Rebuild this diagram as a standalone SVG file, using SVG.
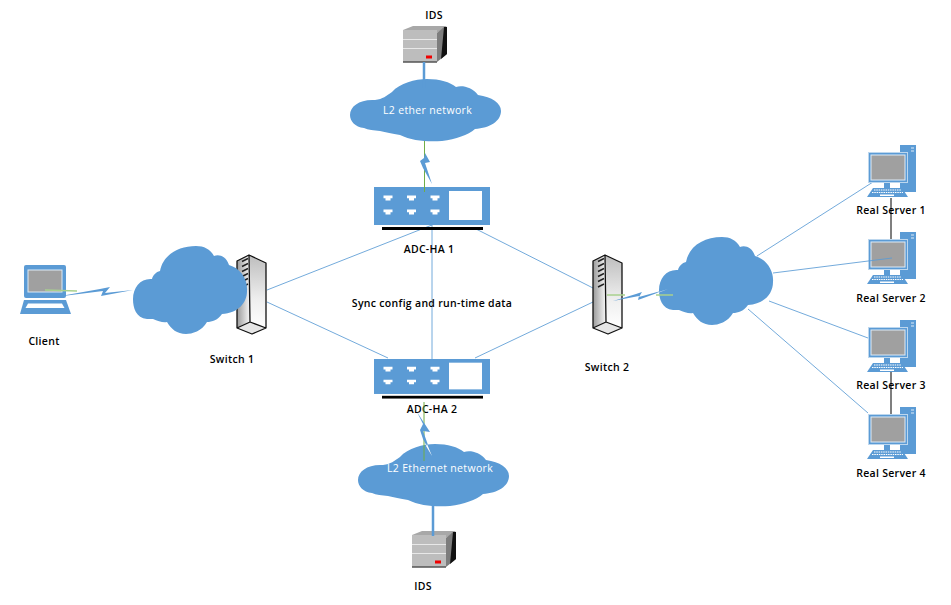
<svg xmlns="http://www.w3.org/2000/svg" xmlns:xlink="http://www.w3.org/1999/xlink" width="951" height="605" viewBox="0 0 951 605">
<style>
text{font-family:"Open Sans","DejaVu Sans",sans-serif;font-size:10.5px;font-weight:600;fill:#000;text-anchor:middle;letter-spacing:.3px}
text.w{fill:#fff;font-weight:400;font-size:10.5px;letter-spacing:.35px}
.b{fill:#5b9bd5}
.l{stroke:#5b9bd5;stroke-width:1;fill:none;opacity:.85}
.t{stroke:#5b9bd5;stroke-width:2.5;fill:none}
.g{stroke:#a9d18e;stroke-width:1.5;fill:none}
.gd{stroke:#70ad47;stroke-width:1;fill:none}
.k{stroke:#7f7f7f;stroke-width:2;fill:none}
</style>
<defs>
<linearGradient id="gl" x1="0" y1="0" x2="1" y2="0"><stop offset="0" stop-color="#9a9a9a"/><stop offset="1" stop-color="#f8f8f8"/></linearGradient>
<linearGradient id="gr" x1="0" y1="0" x2="0" y2="1"><stop offset="0" stop-color="#bdbdbd"/><stop offset=".6" stop-color="#eeeeee"/><stop offset="1" stop-color="#ffffff"/></linearGradient>
<path id="cloud" class="b" d="M14 73C3 72 0 62 0 53C0 41 8 32 19 33C20 29 23 26 27 25C30 9 45 0 63 0C71 0 77 3 81 10C86 8 93 10 96 19C107 22 115 33 114 45C114 57 105 67 89 68C85 74 79 76 74 76C69 85 59 88 53 88C44 88 38 83 34 76C30 77 25 75 20 73Z"/>
<path id="cloud-wide" class="b" d="M14 49C5 48 0 42 0 36C0 27 10 20 25 21C33 20 36 17 42 13C50 4 65 0 77 0C90 0 100 3 106 8C112 6 122 8 128 16C142 18 151 24 151 32C151 42 140 49 125 50C118 56 106 60 92 62C78 63 62 62 50 56C42 55 36 53 30 52C24 51 18 51 14 49Z"/>
<g id="server">
<path d="M403 30L413 26H447L437 33H403Z" fill="#a8a8a8"/>
<path d="M437 33L444 27H447V54L437 62Z" fill="#7d7d7d"/>
<path d="M444 27H447V54L441 59Z" fill="#111"/>
<rect x="403" y="30" width="34" height="32" fill="#bdbdbd"/>
<path d="M403 39.500H437M403 48.500H437" stroke="#e8e8e8" stroke-width="1.200"/>
<path d="M403 62H437" stroke="#555" stroke-width="1.500"/>
<rect x="426" y="55.500" width="6" height="3" fill="#f00000"/>
</g>
<g id="adc">
<rect class="b" x="374" y="187" width="116" height="38"/>
<rect x="449" y="191" width="33" height="29" fill="#fff"/>
<g fill="#fff">
<path id="p" d="M383.500 195.500h9v2.800h-2v2.200h-5v-2.200h-2z"/>
<use xlink:href="#p" href="#p" x="23.500"/><use xlink:href="#p" href="#p" x="47"/>
<use xlink:href="#p" href="#p" y="14"/><use xlink:href="#p" href="#p" x="23.500" y="14"/><use xlink:href="#p" href="#p" x="47" y="14"/>
</g>
<rect x="382" y="227" width="101" height="3" fill="#000"/>
</g>
<g id="switch">
<path d="M593 261L605 255L606 322L593 328Z" fill="url(#gl)"/>
<path d="M605 255L622 263V328L606 322Z" fill="url(#gr)"/>
<path d="M593 328L606 322L622 328L608 334Z" fill="#e6e6e6"/>
<path d="M593 261L605 255L622 263V328L608 334L593 328ZM605 255L606 322M593 328L606 322L622 328" fill="none" stroke="#111" stroke-width="1.300" stroke-linejoin="round"/>
<path d="M598 261.500L604 258.500M598 266.500L604 263.500M598 271.500L604 268.500M598 276.500L604 273.500M598 281.500L604 278.500M598 287L604 284" stroke="#222" stroke-width="1.500"/>
</g>
<g id="pc">
<rect class="b" x="900" y="145" width="16" height="47"/>
<path d="M911 148h3M911 151h3" stroke="#deebf7" stroke-width="1"/>
<rect class="b" x="868.500" y="152.500" width="39" height="30" stroke="#bdd7ee" stroke-width="1"/>
<rect x="871" y="155" width="34" height="25" fill="#a0a0a0" stroke="#deebf7" stroke-width="1"/>
<rect class="b" x="884" y="183" width="6" height="5"/>
<path class="b" d="M873 188H902L908 197H867Z"/>
<path d="M874 190H901M872 192.500H903" stroke="#fff" stroke-width="1.200" stroke-dasharray="1.500 .8"/>
<rect x="880" y="194.500" width="14" height="1.500" fill="#fff"/>
</g>
</defs>

<g id="connectors">
<line class="l" x1="267" y1="290" x2="432" y2="225"/>
<line class="l" x1="267" y1="302" x2="388" y2="358"/>
<line class="l" x1="432" y1="225" x2="432" y2="360"/>
<line class="l" x1="476" y1="229" x2="593" y2="288"/>
<line class="l" x1="475" y1="358" x2="593" y2="302"/>
<line class="l" x1="757" y1="256" x2="873" y2="182"/>
<line class="l" x1="868" y1="338" x2="769" y2="301"/>
<line class="l" x1="868" y1="413" x2="748" y2="309"/>
<line class="k" x1="891" y1="198" x2="891" y2="240"/>
<line class="k" x1="891" y1="372" x2="891" y2="415"/>
</g>

<g id="ids-top"><use xlink:href="#server" href="#server"/><text x="434" y="19">IDS</text></g>
<g id="ids-bottom"><use xlink:href="#server" href="#server" transform="translate(9 505)"/><text x="423" y="590">IDS</text></g>
<g id="adc-ha-1"><use xlink:href="#adc" href="#adc"/><text x="429" y="253">ADC-HA 1</text></g>
<g id="adc-ha-2"><use xlink:href="#adc" href="#adc" transform="translate(0 359) scale(1 .92) translate(0 -187)"/><text x="432" y="413">ADC-HA 2</text></g>
<g id="switch-1"><use xlink:href="#switch" href="#switch" transform="translate(-356 0)"/><text x="232" y="363">Switch 1</text></g>
<g id="switch-2"><use xlink:href="#switch" href="#switch"/><text x="607" y="371">Switch 2</text></g>

<g id="client">
<rect class="b" x="24" y="265" width="42" height="33" rx="2"/>
<rect x="28" y="270" width="34" height="22" fill="#a0a0a0" stroke="#deebf7" stroke-width="1"/>
<path class="b" d="M24 300H66L71 314H20Z"/>
<path d="M28 303.500H62L64.500 308H25.500Z" fill="#fff"/>
<text x="44" y="345">Client</text>
</g>
<g id="cloud-client"><use xlink:href="#cloud" href="#cloud" transform="translate(133 246)"/></g>
<g id="cloud-servers"><use xlink:href="#cloud" href="#cloud" transform="translate(659 237)"/></g>
<g id="cloud-top"><use xlink:href="#cloud-wide" href="#cloud-wide" transform="translate(350 79)"/><text class="w" x="427.500" y="114">L2 ether network</text></g>
<g id="cloud-bottom"><use xlink:href="#cloud-wide" href="#cloud-wide" transform="translate(358 444)"/><text class="w" x="440" y="472">L2 Ethernet network</text></g>

<g id="pc-1"><use xlink:href="#pc" href="#pc"/><text x="891" y="214">Real Server 1</text></g>
<g id="pc-2"><use xlink:href="#pc" href="#pc" transform="translate(0 87)"/><text x="891" y="302">Real Server 2</text></g>
<g id="pc-3"><use xlink:href="#pc" href="#pc" transform="translate(0 175)"/><text x="891" y="389">Real Server 3</text></g>
<g id="pc-4"><use xlink:href="#pc" href="#pc" transform="translate(0 262)"/><text x="891" y="477">Real Server 4</text></g>

<g id="links">
<line class="l" x1="773" y1="273" x2="892" y2="258"/>
<line class="t" x1="424" y1="62" x2="424" y2="88"/>
<line class="t" x1="433" y1="505" x2="433" y2="536"/>
<line class="g" x1="45" y1="290" x2="77" y2="291"/>
<polygon class="b" points="55,297 100,289 110,287 105,293 133,290 101,296 103,291"/>
<line class="g" x1="607" y1="295" x2="625" y2="295"/>
<line class="g" x1="656" y1="295" x2="673" y2="295"/>
<polygon class="b" points="613,301 636,294 642,292 639,297 668,289 638,300 639,296"/>
<polygon fill="#fff" points="659,292 668,289 655,294"/>
<line class="gd" x1="424.500" y1="141" x2="424.500" y2="192"/>
<polygon class="b" points="425,153 430,162 425,163 432,184 423,168 420,161 424,158"/>
<line class="gd" x1="424" y1="402" x2="424" y2="461"/>
<polygon class="b" points="417,412 430,432 423,431 432,456 423,439 420,430 423,424"/>
<polygon fill="#fff" points="427,444 432,456 426,446"/>
</g>

<text id="sync" x="432" y="307">Sync config and run-time data</text>
</svg>
